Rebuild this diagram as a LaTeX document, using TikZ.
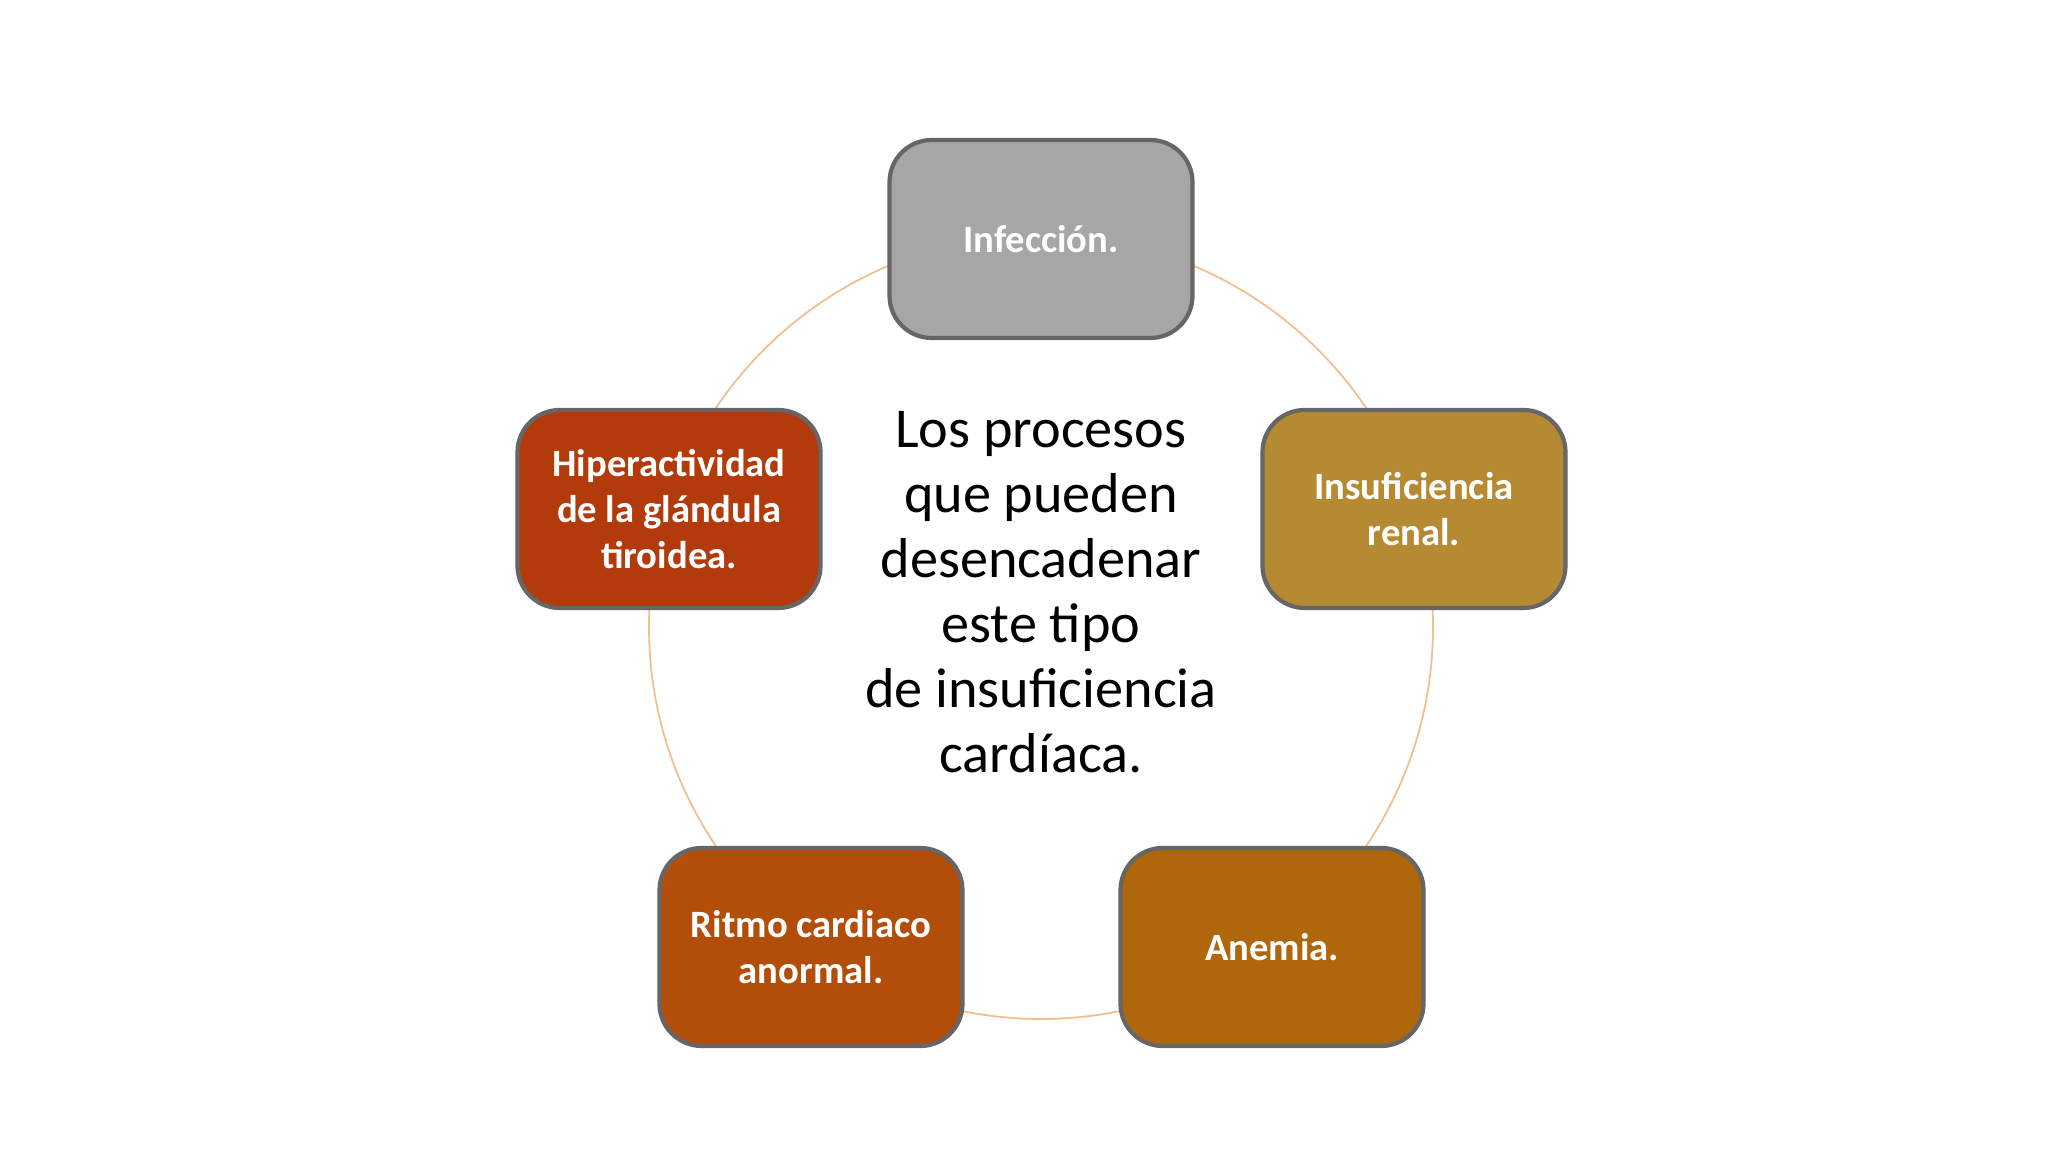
\documentclass[tikz,border=0pt]{standalone}
\usepackage{fontspec}
\setmainfont{Carlito}
\definecolor{cgray}{HTML}{A6A6A6}
\definecolor{cgold}{HTML}{B58A32}
\definecolor{canem}{HTML}{B0660A}
\definecolor{critmo}{HTML}{B34E0A}
\definecolor{chiper}{HTML}{B33A0A}
\begin{document}
\begin{tikzpicture}
		\tikzstyle{causa}=[rounded corners=12pt,draw=black!60,line width=1.2pt,minimum width=3.03cm,minimum height=1.98cm,align=center,text=white,font=\fontsize{11}{13}\selectfont\bfseries]
		\tikzstyle{ring}=[draw=orange!50!brown!50,line width=0.5pt]
		
		\useasboundingbox (0,0) rectangle (20.48,11.52);
		\node (centro) at (10.41,5.6) [align=center,font=\fontsize{16}{18.5}\selectfont] {Los procesos\\que pueden\\desencadenar\\este tipo\\de insuficiencia\\cardíaca.};
		\draw[ring] (10.41,5.25) circle (3.92);
		
		\node[causa,fill=cgray] (infeccion) at (10.41,9.13) {Infección.};
		\node[causa,fill=cgold] (renal) at (14.14,6.43) {Insuficiencia\\renal.};
		\node[causa,fill=canem] (anemia) at (12.72,2.05) {Anemia.};
		\node[causa,fill=critmo] (ritmo) at (8.11,2.05) {Ritmo cardiaco\\anormal.};
		\node[causa,fill=chiper] (tiroides) at (6.69,6.43) {Hiperactividad\\de la glándula\\tiroidea.};
\end{tikzpicture}
\end{document}
